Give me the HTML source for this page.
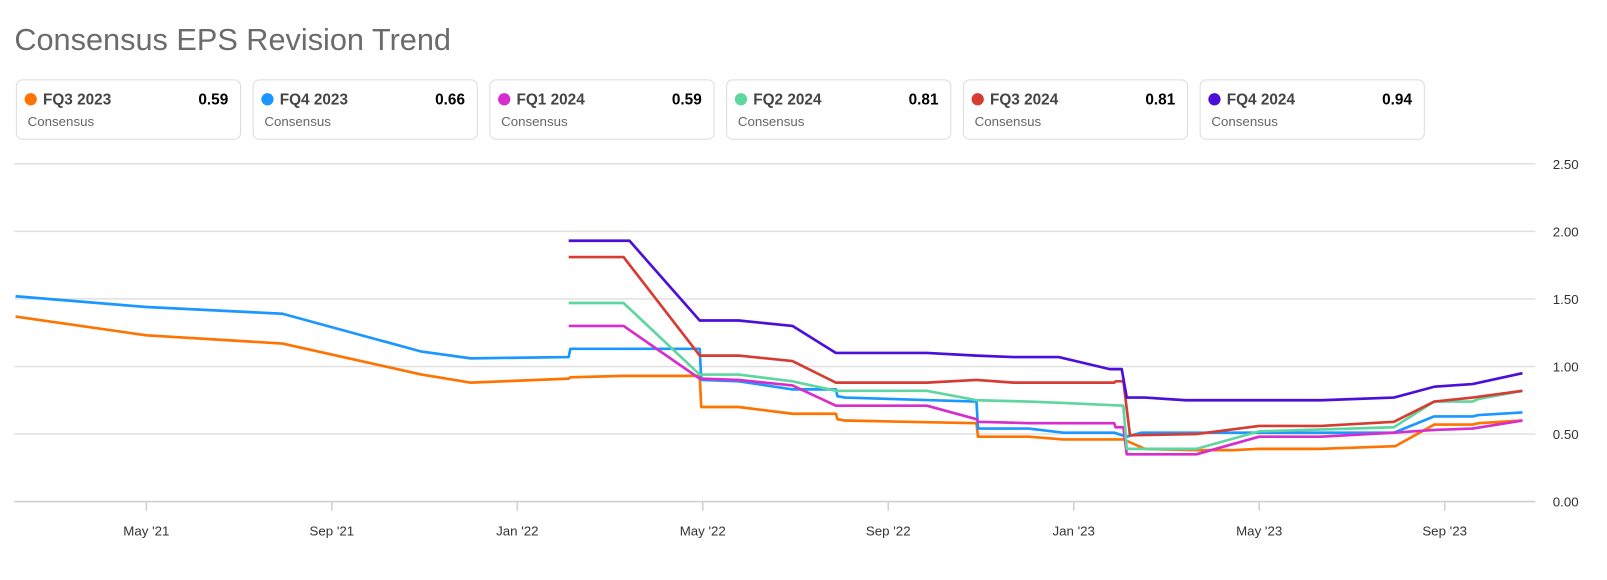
<!DOCTYPE html>
<html><head><meta charset="utf-8"><style>
html,body{margin:0;padding:0;background:#fff;}
svg{display:block;font-family:"Liberation Sans",Arial,sans-serif;}
</style></head><body>
<svg id="chart" width="1607" height="580" viewBox="0 0 1570 566.6" xmlns="http://www.w3.org/2000/svg">
<text x="14" y="49" font-size="30" fill="#6b6b6b">Consensus EPS Revision Trend</text>
<g id="legend"></g>
<g id="grid"></g>
<g id="xaxis"></g>
<g id="yaxis"></g>
<g id="series"></g>
</svg>
<script>
const seriesNames = ["FQ3 2023","FQ4 2023","FQ1 2024","FQ2 2024","FQ3 2024","FQ4 2024"];
const seriesColors = ["#ff7300","#1a98ff","#d62dcc","#5fd6a0","#d63c32","#4c0fd9"];
const latestValues = ["0.59","0.66","0.59","0.81","0.81","0.94"];
const yTicks = [0,0.5,1,1.5,2,2.5];
const yTickLabels = ["0.00","0.50","1.00","1.50","2.00","2.50"];
const xTickDates = ["2021-05-01","2021-09-01","2022-01-01","2022-05-01","2022-09-01","2023-01-01","2023-05-01","2023-09-01"];
const xTickLabels = ["May '21","Sep '21","Jan '22","May '22","Sep '22","Jan '23","May '23","Sep '23"];

const fq3_2023 = [["2021-02-06",1.37],["2021-05-01",1.23],["2021-07-30",1.17],["2021-10-30",0.94],["2021-12-01",0.88],["2022-02-04",0.91],["2022-02-05",0.92],["2022-03-10",0.93],["2022-04-29",0.93],["2022-04-30",0.70],["2022-05-25",0.70],["2022-06-29",0.65],["2022-07-28",0.65],["2022-07-29",0.61],["2022-08-03",0.60],["2022-10-29",0.58],["2022-10-30",0.48],["2022-12-02",0.48],["2022-12-25",0.46],["2023-01-29",0.46],["2023-02-03",0.46],["2023-02-16",0.39],["2023-03-21",0.38],["2023-04-14",0.38],["2023-05-01",0.39],["2023-06-11",0.39],["2023-07-30",0.41],["2023-08-25",0.57],["2023-09-19",0.57],["2023-09-23",0.58],["2023-10-22",0.60]];
const fq4_2023 = [["2021-02-06",1.52],["2021-05-01",1.44],["2021-07-30",1.39],["2021-10-30",1.11],["2021-12-01",1.06],["2022-02-04",1.07],["2022-02-05",1.13],["2022-04-29",1.13],["2022-04-30",0.90],["2022-05-25",0.89],["2022-06-29",0.83],["2022-07-28",0.83],["2022-07-29",0.78],["2022-08-03",0.77],["2022-10-29",0.74],["2022-10-30",0.54],["2022-12-02",0.54],["2022-12-25",0.51],["2023-01-28",0.51],["2023-02-05",0.48],["2023-02-14",0.51],["2023-05-01",0.51],["2023-07-29",0.51],["2023-08-25",0.63],["2023-09-19",0.63],["2023-09-23",0.64],["2023-10-22",0.66]];
const fq1_2024 = [["2022-02-04",1.30],["2022-03-10",1.30],["2022-04-29",0.91],["2022-05-25",0.90],["2022-06-29",0.86],["2022-07-28",0.71],["2022-09-26",0.71],["2022-10-29",0.61],["2022-10-30",0.59],["2022-12-02",0.58],["2023-01-28",0.58],["2023-01-29",0.55],["2023-02-03",0.55],["2023-02-05",0.35],["2023-03-21",0.35],["2023-05-01",0.48],["2023-06-11",0.48],["2023-07-29",0.51],["2023-08-25",0.53],["2023-09-19",0.54],["2023-10-22",0.60]];
const fq2_2024 = [["2022-02-04",1.47],["2022-03-10",1.47],["2022-04-29",0.94],["2022-05-25",0.94],["2022-06-29",0.89],["2022-07-28",0.82],["2022-09-26",0.82],["2022-10-29",0.75],["2022-12-02",0.74],["2022-12-25",0.73],["2023-02-03",0.71],["2023-02-05",0.39],["2023-03-21",0.39],["2023-05-01",0.52],["2023-07-29",0.55],["2023-08-25",0.74],["2023-09-19",0.74],["2023-09-23",0.76],["2023-10-22",0.82]];
const fq3_2024 = [["2022-02-04",1.81],["2022-03-10",1.81],["2022-04-29",1.08],["2022-05-25",1.08],["2022-06-29",1.04],["2022-07-28",0.88],["2022-09-26",0.88],["2022-10-29",0.90],["2022-11-22",0.88],["2023-01-28",0.88],["2023-01-29",0.89],["2023-02-03",0.89],["2023-02-07",0.49],["2023-03-21",0.50],["2023-05-01",0.56],["2023-06-11",0.56],["2023-07-29",0.59],["2023-08-25",0.74],["2023-09-19",0.77],["2023-10-22",0.82]];
const fq4_2024 = [["2022-02-04",1.93],["2022-03-14",1.93],["2022-04-29",1.34],["2022-05-25",1.34],["2022-06-29",1.30],["2022-07-28",1.10],["2022-09-26",1.10],["2022-10-29",1.08],["2022-11-22",1.07],["2022-12-22",1.07],["2023-01-25",0.98],["2023-02-02",0.98],["2023-02-05",0.77],["2023-02-16",0.77],["2023-03-14",0.75],["2023-05-01",0.75],["2023-06-11",0.75],["2023-07-29",0.77],["2023-08-25",0.85],["2023-09-19",0.87],["2023-10-22",0.95]];
const allSeries = [fq3_2023,fq4_2023,fq1_2024,fq2_2024,fq3_2024,fq4_2024];

const NS = "http://www.w3.org/2000/svg";
const X0 = 14, X1 = 1500, YTOP = 160, YBOT = 490;
function monthIndex(s){
  const [y,m,d] = s.split("-").map(Number);
  const dim = new Date(y, m, 0).getDate();
  return (y-2021)*12 + (m-1) + (d-1)/dim;
}
function xScale(s){ return 143 + (monthIndex(s)-4)*45.3; }
function yScale(v){ return YBOT - v/2.5*(YBOT-YTOP); }
function mk(tag, attrs, parent){
  const e = document.createElementNS(NS, tag);
  for (const k in attrs) e.setAttribute(k, attrs[k]);
  parent.appendChild(e); return e;
}

// legend
const lg = document.getElementById("legend");
seriesNames.forEach((n,i)=>{
  const bx = 16 + i*231.3;
  const g = mk("g",{},lg);
  
  
  mk("rect",{x:bx,y:78,width:219,height:58,rx:6,fill:"#fff",stroke:"#dcdcdc","stroke-width":1},g);
  mk("circle",{cx:bx+14,cy:97,r:6,fill:seriesColors[i]},g);
  const t = mk("text",{x:bx+26,y:102,"font-size":15,"font-weight":"bold",fill:"#444"},g); t.textContent = n;
  const v = mk("text",{x:bx+207,y:102,"font-size":15,"font-weight":"bold",fill:"#000","text-anchor":"end"},g); v.textContent = latestValues[i];
  const c = mk("text",{x:bx+11,y:123,"font-size":13,fill:"#666"},g); c.textContent = "Consensus";
});

// grid & y axis
const gg = document.getElementById("grid"), ya = document.getElementById("yaxis");
yTicks.forEach((t,i)=>{
  const y = yScale(t);
  const l = mk("line",{x1:X0,x2:X1,y1:y,y2:y,stroke:i===0?"#cfcfcf":"#e0e0e0","stroke-width":1.5},gg);
  
  
  const tx = mk("text",{x:1517,y:y+5,"font-size":13,fill:"#333"},ya);
  
  
  tx.textContent = yTickLabels[i];
});
// x axis
const xa = document.getElementById("xaxis");
xTickDates.forEach((d,i)=>{
  const x = xScale(d);
  const tk = mk("line",{x1:x,x2:x,y1:YBOT,y2:YBOT+9,stroke:"#cfcfcf","stroke-width":1.5},xa);
  
  
  const tx = mk("text",{x:x,y:523,"font-size":13,fill:"#333","text-anchor":"middle"},xa);
  
  
  tx.textContent = xTickLabels[i];
});

// series
const sg = document.getElementById("series");
allSeries.forEach((s,i)=>{
  const pts = s.map(p=>xScale(p[0]).toFixed(1)+","+yScale(p[1]).toFixed(1)).join(" ");
  const pl = mk("polyline",{points:pts,fill:"none",stroke:seriesColors[i],"stroke-width":2.6,"stroke-linejoin":"round"},sg);
  
  
});
</script>
</body></html>
